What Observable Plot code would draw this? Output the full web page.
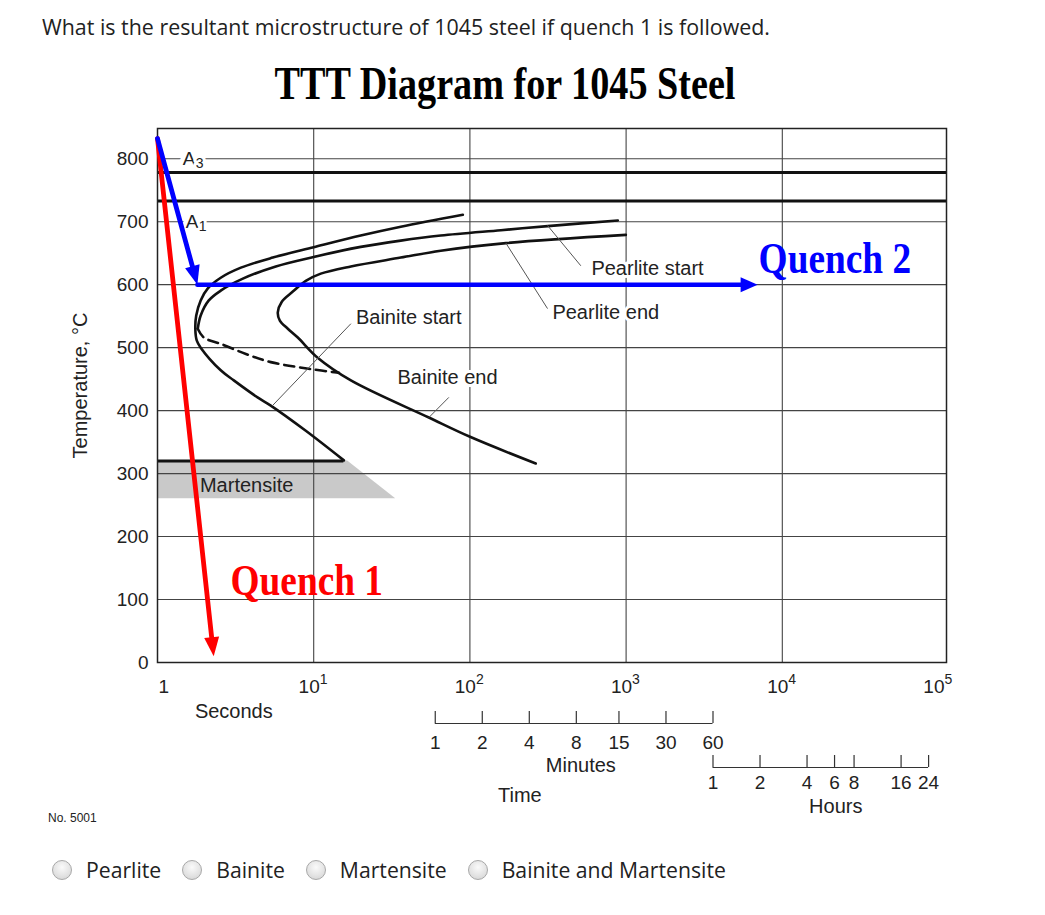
<!DOCTYPE html>
<html><head><meta charset="utf-8">
<script src="https://cdn.jsdelivr.net/npm/d3@7"></script>
<script src="https://cdn.jsdelivr.net/npm/@observablehq/plot@0.6"></script>
<style>
body{margin:0;background:#fff;}
#page{position:relative;width:1045px;height:915px;overflow:hidden;font-family:"Open Sans",sans-serif;color:#222;background:#fff;}
#q{position:absolute;left:42px;top:13px;font-size:21.4px;line-height:28px;white-space:nowrap;}
#title{position:absolute;left:505px;top:61px;font-family:"Liberation Serif","Times New Roman",serif;font-weight:bold;font-size:46px;line-height:46px;white-space:nowrap;transform:translateX(-50%) scaleX(0.83);color:#000;}
#chart{position:absolute;left:0;top:110px;}
#no{position:absolute;left:48px;top:811px;font-family:"Liberation Sans",Arial,sans-serif;font-size:12px;color:#222;}
#opts{position:absolute;top:855px;left:52px;display:flex;align-items:center;font-size:21.2px;line-height:30px;}
.opt{display:flex;align-items:center;margin-right:21px;}
.rad{width:20px;height:20px;border-radius:50%;border:1px solid #a8a8a8;background:radial-gradient(circle at 50% 35%,#fafafa 0%,#e2e2e2 60%,#cfcfcf 100%);margin-right:14px;box-sizing:border-box;}
</style></head>
<body><div id="page">
<div id="q">What is the resultant microstructure of 1045 steel if quench 1 is followed.</div>
<div id="title">TTT Diagram for 1045 Steel</div>
<div id="chart"></div>
<div id="no">No. 5001</div>
<div id="opts"></div>
</div>
<script>
// ---------- data ----------
const tempTicks = [0, 100, 200, 300, 400, 500, 600, 700, 800];
const tempGrid = [100, 200, 300, 400, 500, 600, 700, 800];
const decadeGrid = [10, 100, 1000, 10000];
const decadeExp = [1, 2, 3, 4, 5];
const A3 = 778, A1 = 733, Ms = 320;
const martensiteBand = [{T: 320, t: 16.5}, {T: 260, t: 33.5}];
// time (s), temperature (°C)
const ferriteStart = [[90.1,711],[36.1,692],[20.0,678],[10.0,659.5],[5.47,643],[3.42,627],[2.54,611],[2.1,594],[1.89,575],[1.77,551],[1.746,530],[1.785,511],[1.89,500],[2.54,464],[3.08,448],[4.37,421],[5.31,408],[8.9,368],[15.6,321]];
const pearliteStart = [[885,702],[315,693],[158,686.5],[65.1,678],[36.1,670],[20.0,660],[10.0,644],[5.72,629],[3.52,609.5],[2.54,590.5],[2.13,575],[1.89,551],[1.81,530]];
const bainiteDashed = [[1.81,530],[1.98,516],[2.54,506],[3.68,490],[5.31,477],[9.58,466],[14.5,460]];
const pearliteEnd = [[996,679],[170,666],[65.1,654],[36.1,643],[17.3,629],[11.1,617.5],[8.9,606],[7.35,589],[6.25,573],[5.89,556],[6.07,543],[6.83,530],[7.91,516],[10.6,484],[17.3,448],[54.6,389],[101,358],[264,316]];
const quench1 = [[1, 832], [2.29, 10]];
const quench2 = [[1, 832], [1.8, 600], [6950, 600]];
const leaders = [
  {x1: 314, y1: 694, x2: 513, y2: 630},
  {x1: 170, y1: 666, x2: 314, y2: 562},
  {x1: 17.3, y1: 538, x2: 5.45, y2: 408},
  {x1: 73.3, y1: 421, x2: 54.6, y2: 389}
];
const labels = [
  {t: 1371, T: 625, text: "Pearlite start"},
  {t: 741, T: 556, text: "Pearlite end"},
  {t: 40.6, T: 548, text: "Bainite start"},
  {t: 71.9, T: 453, text: "Bainite end"}
];
const martLabel = [{t: 1.87, T: 281, text: "Martensite"}];
const aLabels = [{t: 1.452, T: 800, base: "A", sub: "3"}, {t: 1.518, T: 700, base: "A", sub: "1"}];
const quenchLabels = [{t: 9.03, T: 130, text: "Quench 1", c: "#ff0000"}, {t: 21700, T: 641, text: "Quench 2", c: "#0000ff"}];
const minuteTicks = [1, 2, 4, 8, 15, 30, 60];
const hourTicks = [1, 2, 4, 6, 8, 16, 24];
const options = ["Pearlite", "Bainite", "Martensite", "Bainite and Martensite"];

// ---------- layout ----------
const W = 1045, H = 720, mL = 157, mR = 99, mT = 18, mB = 168;
const xMax = 112500, yMax = 848;
const frameH = H - mT - mB;
const off = px => -px * yMax / frameH; // data units for a pixel offset below the frame
const sans = "Liberation Sans, Arial, Helvetica, sans-serif";

// mirror scales to orient arrowheads
const xs = d3.scaleLog().domain([1, xMax]).range([mL, W - mR]);
const ys = d3.scaleLinear().domain([0, yMax]).range([H - mB, mT]);
function head(from, to, L, Wd) {
  const dx = xs(to[0]) - xs(from[0]), dy = ys(to[1]) - ys(from[1]);
  const len = Math.hypot(dx, dy), ux = dx / len, uy = dy / len;
  const symbol = {draw(ctx) {
    ctx.moveTo(0, 0);
    ctx.lineTo(-L * ux - Wd * uy, -L * uy + Wd * ux);
    ctx.lineTo(-L * ux + Wd * uy, -L * uy - Wd * ux);
    ctx.closePath();
  }};
  const base = [xs.invert(xs(to[0]) - (L - 4) * ux), ys.invert(ys(to[1]) - (L - 4) * uy)];
  return {symbol, base, tip: to};
}
const hRed = head(quench1[0], quench1[1], 19, 7.5);
const hBlue1 = head(quench2[0], quench2[1], 19, 7.5);
const hBlue2 = head(quench2[1], quench2[2], 17, 7.5);

const line = (data, o) => Plot.line(data, {x: d => d[0], y: d => d[1], ...o});
const black = {stroke: "#111", strokeWidth: 2.6, curve: "catmull-rom"};
const below = {frameAnchor: "bottom", lineAnchor: "middle", textAnchor: "middle"};

const plot = Plot.plot({
  width: W, height: H,
  marginLeft: mL, marginRight: mR, marginTop: mT, marginBottom: mB,
  x: {type: "log", domain: [1, xMax], axis: null},
  y: {domain: [0, yMax], axis: null},
  style: {fontFamily: sans, fontSize: "19px", color: "#222", background: "white", overflow: "visible"},
  marks: [
    Plot.areaX(martensiteBand, {y: "T", x1: 1, x2: "t", fill: "#c9c9c9"}),
    Plot.ruleY(tempGrid, {stroke: "#444", strokeWidth: 1.1}),
    Plot.ruleX(decadeGrid, {stroke: "#444", strokeWidth: 1.1}),
    Plot.ruleY([A3, A1], {stroke: "#111", strokeWidth: 3}),
    Plot.ruleY([Ms], {x1: 1, x2: 15.6, stroke: "#111", strokeWidth: 3}),
    line(ferriteStart, black),
    line(pearliteStart, black),
    line(pearliteEnd, black),
    line(bainiteDashed, {...black, strokeDasharray: "10,6"}),
    // labels
    Plot.text(labels, {x: "t", y: "T", text: "text", fontSize: 20, fill: "#222", stroke: "white", strokeWidth: 6}),
    Plot.text(martLabel, {x: "t", y: "T", text: "text", fontSize: 20, fill: "#222", textAnchor: "start"}),
    Plot.text(aLabels, {x: "t", y: "T", text: "base", fontSize: 19, fill: "#222", textAnchor: "start", stroke: "white", strokeWidth: 9}),
    Plot.text(aLabels, {x: "t", y: "T", text: "sub", fontSize: 14, fill: "#222", textAnchor: "start", dx: 13, dy: 5, stroke: "white", strokeWidth: 6}),
    Plot.link(leaders, {x1: "x1", y1: "y1", x2: "x2", y2: "y2", stroke: "#555", strokeWidth: 1}),
    // axes
    Plot.text(tempTicks, {y: d => d, text: d => String(d), frameAnchor: "left", textAnchor: "end", dx: -9, fontSize: 19}),
    Plot.text([1], {x: d => d, text: ["1"], ...below, textAnchor: "start", dx: 1, dy: 24, fontSize: 19}),
    Plot.text(decadeExp, {x: e => 10 ** e, text: () => "10", ...below, textAnchor: "end", dx: 6, dy: 24, fontSize: 19}),
    Plot.text(decadeExp, {x: e => 10 ** e, text: e => String(e), ...below, textAnchor: "start", dx: 6, dy: 17, fontSize: 14}),
    Plot.text(["Temperature, °C"], {frameAnchor: "left", textAnchor: "middle", lineAnchor: "middle", dx: -77, dy: -10, rotate: -90, fontSize: 20}),
    Plot.text(["Seconds"], {x: 3.08, ...below, dy: 49, fontSize: 20}),
    // minutes sub-axis
    Plot.ruleY([off(61)], {x1: 60, x2: 3600, stroke: "#333", strokeWidth: 1.2}),
    Plot.ruleX(minuteTicks, {x: m => m * 60, y1: off(49), y2: off(61), stroke: "#333", strokeWidth: 1.2}),
    Plot.text(minuteTicks, {x: m => m * 60, text: m => String(m), ...below, dy: 80, fontSize: 19}),
    Plot.text(["Minutes"], {x: 513, ...below, dy: 103, fontSize: 20}),
    // hours sub-axis
    Plot.ruleY([off(105)], {x1: 3600, x2: 86400, stroke: "#333", strokeWidth: 1.2}),
    Plot.ruleX(hourTicks, {x: h => h * 3600, y1: off(93), y2: off(105), stroke: "#333", strokeWidth: 1.2}),
    Plot.text(hourTicks, {x: h => h * 3600, text: h => String(h), ...below, dy: 120, fontSize: 19}),
    Plot.text(["Hours"], {x: 22000, ...below, dy: 144, fontSize: 20}),
    Plot.text(["Time"], {x: 208.7, ...below, dy: 133, fontSize: 20}),
    Plot.frame({stroke: "#222", strokeWidth: 1.5}),
    // quench paths
    line([quench1[0], hRed.base], {stroke: "#ff0000", strokeWidth: 4.8}),
    Plot.dot([hRed.tip], {x: d => d[0], y: d => d[1], symbol: hRed.symbol, fill: "#ff0000", stroke: "none"}),
    line([quench2[0], hBlue1.base], {stroke: "#0000ff", strokeWidth: 4.8}),
    line([quench2[1], hBlue2.base], {stroke: "#0000ff", strokeWidth: 4.5}),
    Plot.dot([hBlue1.tip], {x: d => d[0], y: d => d[1], symbol: hBlue1.symbol, fill: "#0000ff", stroke: "none"}),
    Plot.dot([hBlue2.tip], {x: d => d[0], y: d => d[1], symbol: hBlue2.symbol, fill: "#0000ff", stroke: "none"}),
    Plot.text(quenchLabels, {x: "t", y: "T", text: "text", fill: "c", fontFamily: "Liberation Serif, Times New Roman, serif", fontWeight: "bold", fontSize: 45})
  ]
});
document.getElementById("chart").appendChild(plot);

// condense the Quench labels horizontally like the reference
plot.querySelectorAll("text").forEach(el => {
  if (el.textContent.startsWith("Quench")) {
    const x = parseFloat(el.getAttribute("x")) || 0, y = parseFloat(el.getAttribute("y")) || 0;
    const t = el.getAttribute("transform") || "";
    el.setAttribute("transform", `${t} translate(${x},${y}) scale(0.83,1) translate(${-x},${-y})`);
  }
});

const opts = document.getElementById("opts");
options.forEach(o => {
  const d = document.createElement("div"); d.className = "opt";
  const r = document.createElement("span"); r.className = "rad";
  const l = document.createElement("span"); l.textContent = o;
  d.appendChild(r); d.appendChild(l); opts.appendChild(d);
});
</script>
</body></html>
